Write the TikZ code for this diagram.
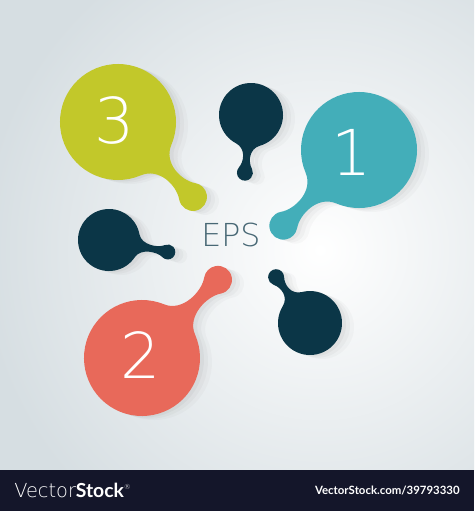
\documentclass[tikz,border=0pt]{standalone}
\usepackage{fontspec}
\newfontfamily\thinfont{DejaVu Sans ExtraLight}
\newfontfamily\barfont{Lato}

\definecolor{bgout}{HTML}{D6DEE2}
\definecolor{limebub}{HTML}{C2C82A}
\definecolor{tealbub}{HTML}{43AEB9}
\definecolor{coralbub}{HTML}{E8695A}
\definecolor{darkbub}{HTML}{0B3647}
\definecolor{barbg}{HTML}{14162A}

% outline of one bubble: big circle radius #1, knob of radius #3 at distance #2
\newcommand{\blobpath}[3]{(22:#1) arc[start angle=22,end angle=338,radius=#1]
  .. controls +(68:0.35*#1) and +(145:1.0*#3) .. ({#2+#3*cos(235)},{#3*sin(235)})
  arc[start angle=235,end angle=485,radius=#3]
  .. controls +(215:1.0*#3) and +(292:0.35*#1) .. (22:#1) -- cycle}

% bubble with soft shadow: center, direction, R, distance, r, colour
\newcommand{\blob}[6]{%
  \foreach \s/\o in {12/0.03,8/0.04,4/0.05}
    \fill[black!70,opacity=\o,shift={(#1)},shift={(\s,-\s/3)},rotate=#2] \blobpath{#3}{#4}{#5};
  \fill[#6,shift={(#1)},rotate=#2] \blobpath{#3}{#4}{#5};}

\begin{document}
\begin{tikzpicture}[x=0.02cm,y=0.02cm,
    number/.style={text=white,font=\thinfont\fontsize{36}{36}\selectfont,inner sep=0pt}]
  \useasboundingbox (0,0) rectangle (474,-511);

  % background
  \begin{scope}
    \clip (0,0) rectangle (474,-470);
    \fill[bgout] (0,0) rectangle (474,-470);
    \shade[inner color=white,outer color=bgout] (320,-250) circle (340);
  \end{scope}

  \coordinate (c3) at (118,-122);
  \coordinate (c1) at (359,-150);
  \coordinate (c2) at (142,-358);
  \coordinate (ct) at (251,-115);
  \coordinate (cl) at (109,-240);
  \coordinate (cr) at (310,-323);

  \blob{c3}{-45}{58}{106}{14}{limebub}
  \blob{c1}{225}{58}{107}{14}{tealbub}
  \blob{c2}{45.8}{58}{109}{14}{coralbub}
  \blob{ct}{-96}{32}{58}{8}{darkbub}
  \blob{cl}{-11.5}{31}{60}{7.5}{darkbub}
  \blob{cr}{126.5}{32}{57}{8}{darkbub}

  \node[number] (n3) at (115,-120) {3};
  \node[number] (n1) at (352,-152) {1};
  \node[number] (n2) at (141,-355) {2};
  \node[text=darkbub!75,font=\thinfont\fontsize{18}{18}\selectfont,inner sep=0pt] (eps) at (231,-235) {EPS};

  % footer bar
  \fill[barbg] (0,-470) rectangle (474,-511);
  \node[anchor=west,text=white,inner sep=0pt] (brand) at (14,-490)
    {\thinfont\fontsize{11}{11}\selectfont Vector{\barfont\bfseries Stock}\raisebox{4pt}{\fontsize{4}{4}\selectfont\textregistered}};
  \node[anchor=east,text=white,inner sep=0pt,font=\barfont\bfseries\fontsize{6.5}{6.5}\selectfont] (url) at (460,-491) {VectorStock.com/39793330};
\end{tikzpicture}
\end{document}
